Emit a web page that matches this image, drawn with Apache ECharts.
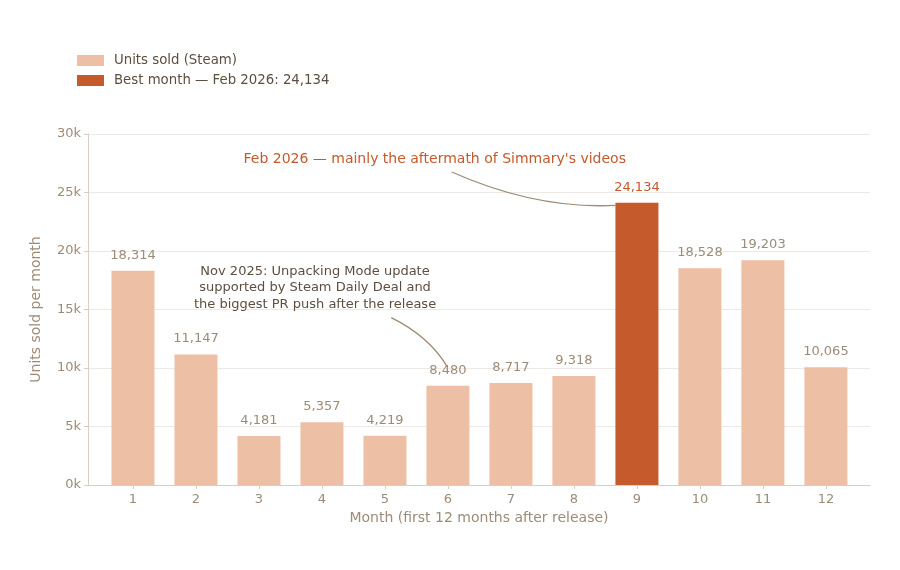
<!DOCTYPE html>
<html>
<head>
<meta charset="utf-8">
<script src="https://cdn.jsdelivr.net/npm/echarts@6/dist/echarts.min.js"></script>
<style>
  html, body { margin: 0; padding: 0; background: #fff; }
  #chart { width: 900px; height: 570px; }
</style>
</head>
<body>
<div id="chart"></div>
<script>
// monthly units sold, first 12 months after release
const months = [1, 2, 3, 4, 5, 6, 7, 8, 9, 10, 11, 12]
const units = [18314, 11147, 4181, 5357, 4219, 8480, 8717, 9318, 24134, 18528, 19203, 10065]
const bestIndex = 8
const yTicks = [0, 5000, 10000, 15000, 20000, 25000, 30000]

const FONT = 'DejaVu Sans'
const light = '#edbfa5'
const dark = '#c55a2d'
const muted = '#9e8b77'
const ink = '#5e4e40'

const fmt = v => v.toLocaleString('en-US')

const regular = months.map((m, i) => [m, i === bestIndex ? null : units[i]])
const best = months.map((m, i) => [m, i === bestIndex ? units[i] : null])

const chart = echarts.init(document.getElementById('chart'))

chart.setOption({
  animation: false,
  textStyle: { fontFamily: FONT },
  legend: {
    left: 72,
    top: 49,
    orient: 'vertical',
    itemWidth: 27,
    itemHeight: 11,
    itemGap: 7,
    icon: 'rect',
    textStyle: { color: ink, fontSize: 13.3, fontFamily: FONT, padding: [0, 0, 0, 5] },
    data: ['Units sold (Steam)', 'Best month — Feb 2026: 24,134']
  },
  grid: { left: 88, right: 30, top: 134, bottom: 85 },
  xAxis: {
    type: 'value',
    min: 0.286,
    max: 12.7,
    name: 'Month (first 12 months after release)',
    nameLocation: 'middle',
    nameGap: 25,
    nameTextStyle: { color: muted, fontSize: 14, verticalAlign: 'top' },
    axisLine: { show: true, lineStyle: { color: '#d9cdc6' } },
    axisTick: { show: true, length: 4, customValues: months, lineStyle: { color: '#d9cdc6' } },
    axisLabel: { color: muted, fontSize: 13, margin: 8, customValues: months },
    splitLine: { show: false }
  },
  yAxis: {
    type: 'value',
    min: 0,
    max: 30000,
    interval: 5000,
    name: 'Units sold per month',
    nameLocation: 'middle',
    nameGap: 45,
    nameTextStyle: { color: muted, fontSize: 14 },
    axisLine: { show: true, lineStyle: { color: '#d9cdc6' } },
    axisTick: { show: true, length: 4, lineStyle: { color: '#d9cdc6' } },
    axisLabel: { color: muted, fontSize: 13, margin: 7, formatter: v => (v / 1000) + 'k' },
    splitLine: { show: true, lineStyle: { color: '#efe9e6', width: 1 } }
  },
  series: [
    {
      name: 'Units sold (Steam)',
      type: 'bar',
      data: regular,
      barWidth: 43,
      barGap: '-100%',
      itemStyle: { color: light },
      label: {
        show: true,
        position: 'top',
        distance: 9,
        color: muted,
        fontSize: 13,
        formatter: p => fmt(p.value[1])
      }
    },
    {
      name: 'Best month — Feb 2026: 24,134',
      type: 'bar',
      data: best,
      barWidth: 43,
      barGap: '-100%',
      itemStyle: { color: dark },
      label: {
        show: true,
        position: 'top',
        distance: 9,
        color: dark,
        fontSize: 13,
        formatter: p => fmt(p.value[1])
      }
    }
  ]
})

// annotations placed in data coordinates
const px = (x, y) => chart.convertToPixel({ gridIndex: 0 }, [x, y])

const t1 = px(5.79, 27870)
const a1s = px(6.06, 26750)
const a1e = px(8.66, 23900)
const a1c = px(7.4, 23550)

const t2 = px(3.89, 16840)
const a2s = px(5.1, 14300)
const a2e = px(5.99, 10100)
const a2c = px(5.7, 12700)

chart.setOption({
  graphic: [
    {
      type: 'text',
      x: t1[0], y: t1[1],
      style: {
        text: "Feb 2026 — mainly the aftermath of Simmary's videos",
        fill: dark, font: '14px "' + FONT + '"',
        align: 'center', verticalAlign: 'middle'
      }
    },
    {
      type: 'bezierCurve',
      shape: { x1: a1s[0], y1: a1s[1], x2: a1e[0], y2: a1e[1], cpx1: a1c[0], cpy1: a1c[1] },
      style: { stroke: muted, lineWidth: 1.3, fill: null }
    },
    {
      type: 'text',
      x: t2[0], y: t2[1],
      style: {
        text: 'Nov 2025: Unpacking Mode update\nsupported by Steam Daily Deal and\nthe biggest PR push after the release',
        fill: ink, font: '13px "' + FONT + '"',
        lineHeight: 16.5,
        align: 'center', verticalAlign: 'middle'
      }
    },
    {
      type: 'bezierCurve',
      shape: { x1: a2s[0], y1: a2s[1], x2: a2e[0], y2: a2e[1], cpx1: a2c[0], cpy1: a2c[1] },
      style: { stroke: muted, lineWidth: 1.3, fill: null }
    }
  ]
})
</script>
</body>
</html>
